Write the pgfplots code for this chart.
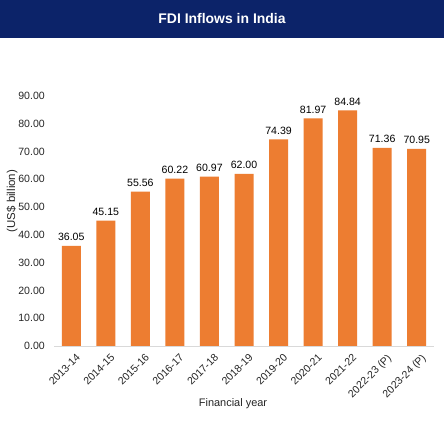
\documentclass[border=0pt]{standalone}
\usepackage{pgfplots}
\pgfplotsset{compat=1.18}
\usepackage{fontspec}
\setmainfont{Liberation Sans}
\definecolor{navy}{HTML}{0C2369}
\definecolor{barorange}{HTML}{ED7D31}
\definecolor{axisgray}{HTML}{D9D9D9}
\definecolor{txt}{HTML}{262626}

\begin{document}
\begin{tikzpicture}[x=1bp,y=1bp]
  % canvas and title bar
  \fill[white] (0,0) rectangle (444,447);
  \fill[navy] (0,409) rectangle (444,447);
  \node[white,font=\bfseries\fontsize{14}{16}\selectfont] at (222,428) {FDI Inflows in India};

  \begin{axis}[
      at={(54bp,101bp)}, anchor=south west,
      scale only axis, width=380bp, height=250bp,
      ybar, bar width=19bp,
      xmin=-0.5, xmax=10.5, ymin=0, ymax=90,
      axis x line*=bottom, axis y line*=left,
      x axis line style={axisgray, line width=0.8bp, -},
      y axis line style={draw=none},
      xtick=data,
      xticklabels={2013-14,2014-15,2015-16,2016-17,2017-18,2018-19,2019-20,2020-21,2021-22,2022-23 (P),2023-24 (P)},
      xtick style={draw=none},
      ytick style={draw=none},
      xticklabel style={rotate=45, anchor=north east, inner sep=1pt, yshift=-4bp, xshift=2bp,
                        font=\fontsize{10.6}{12}\selectfont, text=txt},
      ytick={0,10,...,90},
      yticklabel style={anchor=east, inner sep=0pt, xshift=-9bp,
                        font=\fontsize{10.6}{12}\selectfont, text=txt},
      nodes near coords,
      nodes near coords style={font=\fontsize{10.6}{12}\selectfont, text=black, yshift=1.5bp},
      /pgf/number format/assume math mode=true,
      /pgf/number format/.cd, fixed, fixed zerofill, precision=2,
    ]
    \addplot[fill=barorange, draw=none] coordinates {
      (0,36.05) (1,45.15) (2,55.56) (3,60.22) (4,60.97) (5,62.00)
      (6,74.39) (7,81.97) (8,84.84) (9,71.36) (10,70.95)
    };
  \end{axis}

  \node[rotate=90, text=txt, font=\fontsize{11.5}{14}\selectfont] at (12,246) {(US\$ billion)};
  \node[text=txt, font=\fontsize{11}{13}\selectfont] at (233,43) {Financial year};
\end{tikzpicture}
\end{document}
